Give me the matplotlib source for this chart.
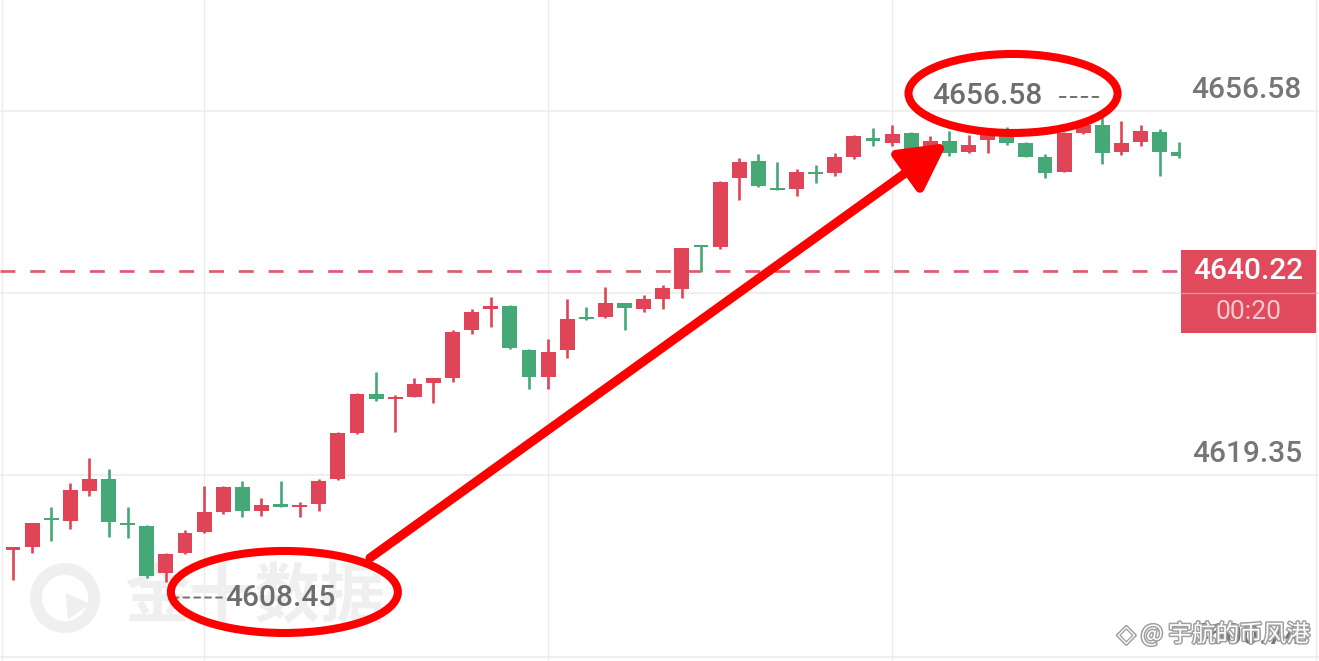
import matplotlib

matplotlib.use("Agg")
import matplotlib.pyplot as plt
import matplotlib.patheffects as pe
from matplotlib.patches import Ellipse, FancyArrowPatch, Rectangle
from matplotlib.transforms import offset_copy

# ── Candle data (1-minute bars) ──────────────────────────────────────
opens = [4611.68, 4611.98, 4614.95, 4614.64, 4617.71, 4618.94, 4614.44, 4614.13, 4609.32, 4611.37,
         4613.52, 4615.56, 4618.12, 4615.67, 4616.38, 4616.07, 4616.38, 4618.94, 4623.64, 4627.63,
         4627.12, 4627.33, 4628.76, 4629.27, 4634.18, 4636.33, 4636.63, 4632.13, 4629.37, 4632.13,
         4635.51, 4635.51, 4636.94, 4636.33, 4637.35, 4638.37, 4642.77, 4642.67, 4649.72, 4651.46,
         4648.70, 4648.60, 4650.34, 4650.24, 4651.87, 4653.82, 4653.30, 4654.33, 4653.00, 4653.51,
         4652.38, 4653.61, 4654.33, 4653.30, 4651.87, 4650.34, 4654.33, 4655.15, 4652.38, 4653.41,
         4654.43, 4652.38]
highs = [4611.98, 4614.44, 4616.07, 4618.53, 4621.09, 4619.96, 4616.07, 4614.23, 4611.37, 4613.72,
         4618.22, 4618.22, 4618.73, 4617.00, 4618.73, 4616.59, 4618.94, 4623.75, 4627.73, 4629.88,
         4627.53, 4629.27, 4629.27, 4634.18, 4636.33, 4637.55, 4636.74, 4632.23, 4633.26, 4637.35,
         4636.53, 4638.58, 4636.94, 4637.76, 4638.78, 4642.56, 4642.77, 4649.42, 4651.77, 4652.18,
         4651.36, 4650.65, 4651.05, 4652.28, 4654.12, 4654.84, 4655.15, 4654.43, 4654.02, 4654.53,
         4654.12, 4654.84, 4654.94, 4653.41, 4652.18, 4654.43, 4655.25, 4656.58, 4655.55, 4655.15,
         4654.74, 4653.41]
lows = [4608.61, 4611.37, 4612.60, 4613.82, 4617.20, 4613.01, 4612.90, 4608.81, 4608.45, 4611.27,
        4613.42, 4615.36, 4615.05, 4615.15, 4616.07, 4615.05, 4615.67, 4618.84, 4623.54, 4626.92,
        4623.75, 4627.33, 4626.71, 4628.86, 4633.77, 4634.48, 4632.23, 4628.14, 4628.14, 4631.31,
        4635.20, 4635.41, 4634.18, 4636.02, 4636.33, 4637.45, 4640.11, 4642.46, 4647.47, 4648.80,
        4648.50, 4647.88, 4649.21, 4649.93, 4651.67, 4653.00, 4653.00, 4649.42, 4652.79, 4651.97,
        4652.28, 4652.28, 4653.10, 4651.87, 4649.72, 4650.34, 4654.22, 4651.16, 4652.08, 4653.00,
        4649.93, 4651.77]
closes = [4611.98, 4614.44, 4614.74, 4617.81, 4618.94, 4614.54, 4614.23, 4609.02, 4611.27, 4613.42,
          4615.56, 4618.12, 4615.67, 4616.28, 4616.07, 4616.28, 4618.73, 4623.64, 4627.63, 4627.12,
          4627.33, 4628.65, 4629.27, 4633.97, 4636.02, 4636.63, 4632.34, 4629.37, 4631.93, 4635.30,
          4635.30, 4636.94, 4636.43, 4637.35, 4638.47, 4642.56, 4642.67, 4649.32, 4651.36, 4648.91,
          4648.50, 4650.34, 4650.13, 4651.87, 4654.02, 4653.51, 4654.22, 4652.69, 4653.51, 4652.28,
          4653.10, 4654.12, 4653.30, 4651.87, 4650.24, 4654.33, 4655.15, 4652.28, 4653.30, 4654.53,
          4652.38, 4651.97]

y_ticks = [4656.58, 4637.96, 4619.35, 4600.74]
v_grid_idx = [10, 28, 46]
current_price = 4640.22
countdown = "00:20"

UP = "#E04457"
DOWN = "#45A877"
GRID = "#EBEBEB"
LABEL = "#767676"
MARK = "#FF0000"

fig = plt.figure(figsize=(13.19, 6.61), dpi=100)
ax = fig.add_axes([0, 0, 1, 1])
ax.set_xlim(-0.68, 68.34)
ax.set_ylim(4600.32, 4667.93)
ax.axis("off")

plot_right = 1181 / 1319  # candles stop where the price axis begins

# ── Grid ─────────────────────────────────────────────────────────────
for v in y_ticks:
    ax.axhline(v, color=GRID, lw=1.1, zorder=0)
for i in v_grid_idx:
    ax.axvline(i, color=GRID, lw=1.0, zorder=0)
ax.axvline(68.18, color=GRID, lw=1.0, zorder=0)
ax.axvline(-0.58, color=GRID, lw=1.0, zorder=0)

# ── Watermarks ───────────────────────────────────────────────────────
ax.scatter([0.0493], [0.0953], s=1750, marker="o", facecolors="none",
           edgecolors="#EFEFEF", linewidths=8.5, transform=ax.transAxes, zorder=1)
ax.scatter([0.0560], [0.0850], s=420, marker=(3, 0, 35), color="#EFEFEF",
           transform=ax.transAxes, zorder=1)
ax.text(0.1933, 0.0953, "金十数据", transform=ax.transAxes, ha="center", va="center",
        fontsize=47, fontweight="bold", color="#EFEFEF",
        family=["Noto Sans CJK SC", "DejaVu Sans"], zorder=1)

# ── Current price line ──────────────────────────────────────────────
ax.axhline(current_price, xmax=plot_right, color="#E05A6A", lw=1.95,
           linestyle=(0, (5.5, 5.5)), zorder=2)

# ── Candles ─────────────────────────────────────────────────────────
clip = Rectangle((0, 0), plot_right, 1, transform=ax.transAxes, visible=False)
ax.add_patch(clip)
xs = list(range(len(opens)))
colors = [UP if c >= o else DOWN for o, c in zip(opens, closes)]
bottoms = [min(o, c) for o, c in zip(opens, closes)]
heights = [max(abs(c - o), 0.25) for o, c in zip(opens, closes)]
wicks = ax.vlines(xs, lows, highs, colors=colors, lw=1.9, zorder=3)
bodies = ax.bar(xs, heights, bottom=bottoms, width=0.78, color=colors, zorder=4)
wicks.set_clip_path(clip)
for b in bodies:
    b.set_clip_path(clip)

# ── Y-axis labels (sit just above their grid line) ──────────────────
ytrans = ax.get_yaxis_transform()
for v in y_ticks:
    ax.annotate(f"{v:.2f}", xy=(0.9871, v), xycoords=ytrans, xytext=(0, 21),
                textcoords="offset pixels", ha="right", va="center",
                fontsize=21.5, color=LABEL, family="Roboto", fontweight="medium",
                zorder=2)

# ── Price box ───────────────────────────────────────────────────────
box_x, box_w = 1181 / 1319, 135 / 1319
ax.add_patch(Rectangle((box_x, current_price - 6.35), box_w, 8.49, transform=ytrans,
                       facecolor="#E04A5C", edgecolor="none", zorder=6))
ax.plot([box_x, box_x + box_w], [current_price - 2.26] * 2, transform=ytrans,
        color="#EE8E99", lw=1.0, zorder=7)
ax.text(box_x + box_w / 2, current_price, f"{current_price:.2f}", transform=ytrans,
        ha="center", va="center", fontsize=21.5, color="white", fontweight="medium",
        family="Roboto", zorder=8)
ax.text(box_x + box_w / 2, current_price - 4.2, countdown, transform=ytrans,
        ha="center", va="center", fontsize=19, color="#F7C9CF", family="Roboto", zorder=8)

# ── Min / max markers ───────────────────────────────────────────────
lo_i = lows.index(min(lows))
hi_i = highs.index(max(highs))
dash = dict(arrowstyle="-", color="#6E6E6E", lw=1.4, linestyle=(0, (3, 2.6)),
            shrinkA=0, shrinkB=0)
ax.annotate("", xy=(lo_i, lows[lo_i]),
            xycoords=offset_copy(ax.transData, fig=fig, x=4, y=-16, units="dots"),
            xytext=(lo_i, lows[lo_i]),
            textcoords=offset_copy(ax.transData, fig=fig, x=56, y=-16, units="dots"),
            arrowprops=dash, zorder=5)
ax.annotate(f"{min(lows):.2f}", xy=(lo_i, lows[lo_i]), xytext=(59, -16),
            textcoords="offset pixels", ha="left", va="center", fontsize=21.5,
            color="#6E6E6E", family="Roboto", fontweight="medium", zorder=5)
ax.annotate("", xy=(hi_i, highs[hi_i]),
            xycoords=offset_copy(ax.transData, fig=fig, x=-45, y=14, units="dots"),
            xytext=(hi_i, highs[hi_i]),
            textcoords=offset_copy(ax.transData, fig=fig, x=-4, y=14, units="dots"),
            arrowprops=dash, zorder=5)
ax.annotate(f"{max(highs):.2f}", xy=(hi_i, highs[hi_i]), xytext=(-60, 15),
            textcoords="offset pixels", ha="right", va="center", fontsize=21.5,
            color="#6E6E6E", family="Roboto", fontweight="medium", zorder=5)

# ── Hand-drawn style highlights ─────────────────────────────────────
ax.add_patch(Ellipse((14.2, 4607.38), 11.88, 8.39, fill=False, edgecolor=MARK,
                     lw=5.8, zorder=10))
ax.add_patch(Ellipse((52.33, 4658.37), 10.94, 8.08, fill=False, edgecolor=MARK,
                     lw=5.8, zorder=10))
ax.add_patch(FancyArrowPatch((18.68, 4610.86), (48.88, 4653.30),
                             arrowstyle="-|>,head_length=28,head_width=15",
                             mutation_scale=1, lw=6.5, color=MARK,
                             shrinkA=0, shrinkB=0, zorder=10))

# ── Author watermark bottom right ───────────────────────────────────
ax.text(0.9932, 0.0408, "◈ @ 宇航的币风港", transform=ax.transAxes, ha="right",
        va="center", fontsize=17, color="white",
        family=["Noto Sans CJK SC", "DejaVu Sans"],
        path_effects=[pe.withStroke(linewidth=2.2, foreground="#A0A0A0")], zorder=9)

fig.savefig("out.png", dpi=100)
